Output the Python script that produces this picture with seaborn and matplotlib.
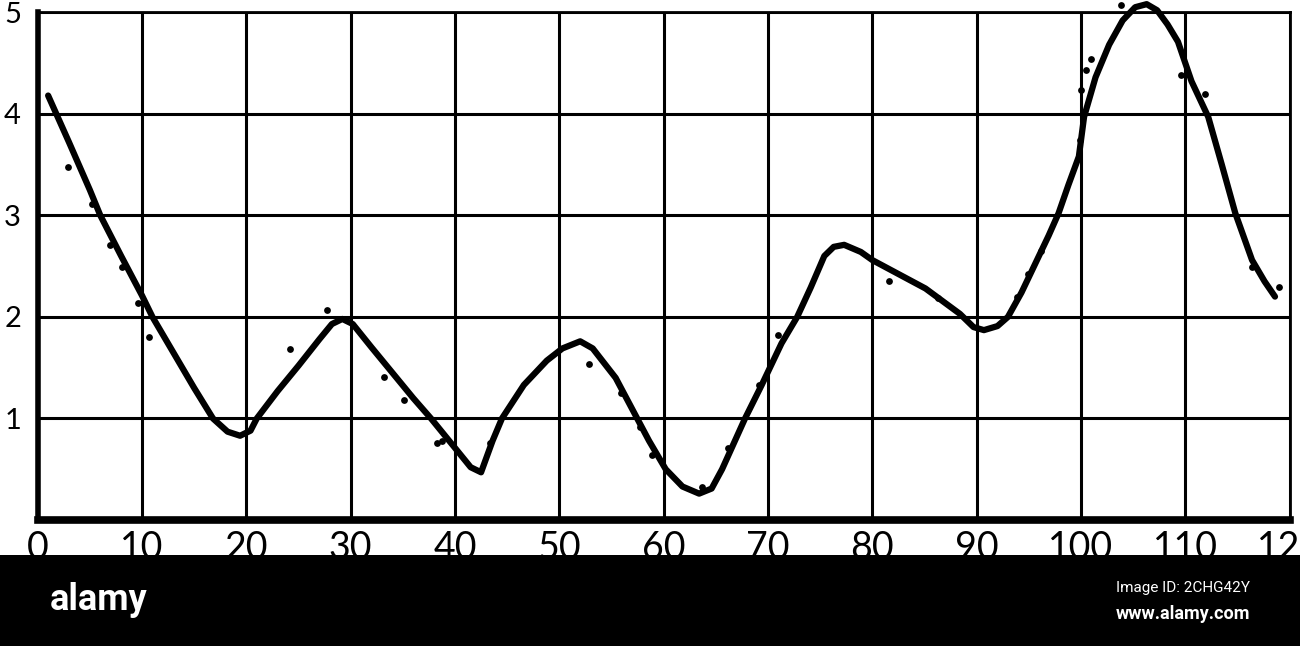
import numpy as np
import pandas as pd
import seaborn as sns
import matplotlib.pyplot as plt
from matplotlib.patches import Rectangle

# smooth curve
curve_x = [1, 3, 5, 6, 8, 10, 11, 13, 15, 16.8, 18.2, 19.4, 20.4, 21, 23, 25, 27, 28.2, 29.2, 30.2,
           32, 34, 36, 37.7, 40, 41.5, 42.5, 43.6, 44.5, 46.6, 48.8, 50.3, 52, 53.2, 55.4, 57, 58.6,
           60.2, 61.8, 63.4, 64.6, 65.6, 67.8, 69.4, 71.3, 72.8, 74.1, 75.4, 76.3, 77.3, 78.9, 80,
           85.1, 88.4, 89.7, 90.7, 92, 93, 94.3, 95.6, 96.9, 97.85, 98.8, 99.8, 100.3, 101.4, 102.7,
           104, 105.2, 106.3, 107.3, 108.3, 109.3, 110.6, 112.2, 113.5, 114.8, 116.4, 117.6, 118.6]
curve_y = [4.18, 3.72, 3.25, 3.0, 2.6, 2.21, 2.0, 1.65, 1.3, 1.0, 0.87, 0.83, 0.88, 1.0, 1.27, 1.52, 1.78, 1.93, 1.98, 1.93,
           1.7, 1.45, 1.2, 1.0, 0.71, 0.52, 0.47, 0.78, 1.0, 1.33, 1.57, 1.69, 1.76, 1.69, 1.40, 1.09, 0.78,
           0.5, 0.33, 0.26, 0.31, 0.5, 1.0, 1.33, 1.74, 2.0, 2.29, 2.6, 2.69, 2.71, 2.64, 2.56,
           2.28, 2.03, 1.9, 1.87, 1.91, 2.0, 2.24, 2.52, 2.8, 3.02, 3.3, 3.58, 3.97, 4.36, 4.68,
           4.92, 5.05, 5.08, 5.02, 4.88, 4.71, 4.32, 3.97, 3.5, 3.02, 2.56, 2.35, 2.2]

# observed points scattered round the curve
dot_x = [2.95, 5.2, 6.9, 8.1, 9.6, 10.7, 24.2, 27.7, 33.2, 35.1, 38.3, 38.8, 43.4, 52.8, 55.9, 57.7,
         58.9, 63.7, 66.2, 69.1, 71.0, 81.6, 86.3, 93.9, 94.9, 96.2, 99.9, 100.0, 100.5, 101.0,
         103.8, 109.6, 111.9, 116.4, 119.0]
dot_y = [3.48, 3.11, 2.71, 2.49, 2.14, 1.8, 1.68, 2.07, 1.41, 1.18, 0.76, 0.78, 0.76, 1.54, 1.25, 0.92,
         0.64, 0.33, 0.71, 1.33, 1.82, 2.35, 2.19, 2.2, 2.42, 2.65, 3.74, 4.23, 4.43, 4.54,
         5.07, 4.38, 4.2, 2.49, 2.29]

x_ticks = list(range(0, 121, 10))
y_ticks = [1, 2, 3, 4, 5]

sns.set_style("white")
plt.rcParams['font.family'] = ['Lato', 'DejaVu Sans']

fig = plt.figure(figsize=(13, 6.46), dpi=100)
ax = fig.add_axes([0.029, 0.195, 0.963, 0.786])

curve = pd.DataFrame({'x': curve_x, 'y': curve_y})
sns.lineplot(data=curve, x='x', y='y', sort=False, estimator=None, color='black',
             linewidth=4.5, ax=ax, clip_on=False, zorder=4,
             solid_joinstyle='round', solid_capstyle='round')
sns.scatterplot(x=dot_x, y=dot_y, color='black', s=24, linewidth=0, ax=ax,
                clip_on=False, zorder=5)

ax.set_xlim(0, 120)
ax.set_ylim(0, 5)
ax.set_xticks(x_ticks)
ax.set_yticks(y_ticks)
ax.set_xticklabels([str(t) for t in x_ticks])
ax.set_yticklabels([str(t) for t in y_ticks])
ax.set_xlabel('')
ax.set_ylabel('')
ax.grid(True, color='black', linewidth=2.2)
ax.set_axisbelow(True)
ax.tick_params(axis='x', length=0, pad=7, labelsize=27, labelcolor='black')
ax.tick_params(axis='y', length=0, pad=12, labelsize=21, labelcolor='black')

for side, lw in [('left', 4), ('bottom', 5.5), ('top', 2), ('right', 2)]:
    ax.spines[side].set_visible(True)
    ax.spines[side].set_color('black')
    ax.spines[side].set_linewidth(lw)

# black banner along the bottom
fig.patches.append(Rectangle((0, 0), 1, 91 / 646, transform=fig.transFigure,
                             facecolor='black', edgecolor='none', zorder=10))
fig.text(50 / 1300, 1 - 600 / 646, 'alamy', color='white', fontsize=26, fontweight='bold',
         family=['Liberation Sans Narrow', 'Roboto', 'DejaVu Sans'], va='center', ha='left', zorder=11)
fig.text(1250 / 1300, 1 - 588 / 646, 'Image ID: 2CHG42Y', color='white', fontsize=11,
         family=['Liberation Sans Narrow', 'Roboto', 'DejaVu Sans'], va='center', ha='right', zorder=11)
fig.text(1250 / 1300, 1 - 614 / 646, 'www.alamy.com', color='white', fontsize=13, fontweight='bold',
         family=['Liberation Sans Narrow', 'Roboto', 'DejaVu Sans'], va='center', ha='right', zorder=11)

fig.savefig('out.png', dpi=100, facecolor='white')
